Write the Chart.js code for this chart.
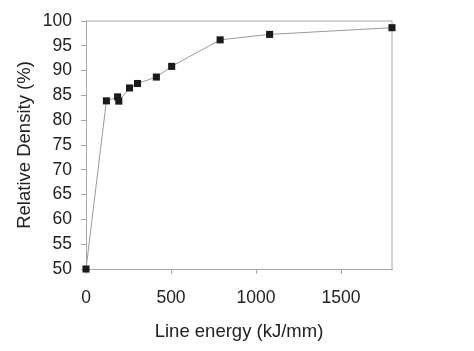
<!DOCTYPE html>
<html>
<head>
<meta charset="utf-8">
<script src="https://cdn.jsdelivr.net/npm/chart.js@4"></script>
<style>
  html, body { margin: 0; padding: 0; background: #fff; }
  #wrap { width: 474px; height: 351px; position: relative; }
</style>
</head>
<body>
<div id="wrap"><canvas id="chart"></canvas></div>
<script>
// values
const lineEnergy = [0, 120, 186, 193, 256, 303, 414, 504, 789, 1080, 1800];
const relativeDensity = [50, 83.9, 84.7, 83.85, 86.5, 87.4, 88.7, 90.85, 96.2, 97.3, 98.65];
const xTicks = [0, 500, 1000, 1500];
const yTicks = [50, 55, 60, 65, 70, 75, 80, 85, 90, 95, 100];

const axisGrey = "#a6a6a6";

const chartAreaBorder = {
  id: "chartAreaBorder",
  beforeDraw(chart) {
    const { ctx, chartArea: { left, top, right, bottom } } = chart;
    ctx.save();
    ctx.strokeStyle = axisGrey;
    ctx.lineWidth = 1;
    ctx.beginPath();
    ctx.moveTo(left, top);
    ctx.lineTo(right, top);
    ctx.lineTo(right, bottom);
    ctx.stroke();
    ctx.restore();
  },
};

Chart.defaults.font.family = "'Liberation Sans', Arial, sans-serif";
Chart.defaults.font.size = 17.5;
Chart.defaults.color = "#222222";

new Chart(document.getElementById("chart"), {
  type: "scatter",
  data: {
    datasets: [
      {
        data: lineEnergy.map((x, i) => ({ x: x, y: relativeDensity[i] })),
        showLine: true,
        clip: false,
        borderColor: "#9a9a9a",
        borderWidth: 1,
        pointStyle: "rect",
        pointRadius: 5,
        pointBackgroundColor: "#1a1a1a",
        pointBorderColor: "#1a1a1a",
        pointBorderWidth: 0,
      },
    ],
  },
  plugins: [chartAreaBorder],
  options: {
    responsive: true,
    maintainAspectRatio: false,
    animation: false,
    layout: { padding: { top: 21, right: 82, left: 0, bottom: 0 } },
    plugins: {
      legend: { display: false },
      tooltip: { enabled: false },
    },
    scales: {
      x: {
        type: "linear",
        min: 0,
        max: 1800,
        afterBuildTicks: (scale) => {
          scale.ticks = xTicks.map((v) => ({ value: v }));
        },
        afterFit: (scale) => {
          scale.height = 82;
        },
        border: { color: axisGrey, width: 1 },
        grid: { drawOnChartArea: false, color: axisGrey, tickLength: 5 },
        ticks: { padding: 14, maxRotation: 0, callback: (v) => String(v) },
        title: {
          display: true,
          text: "Line energy (kJ/mm)",
          font: { size: 18.5 },
          padding: { top: 8, bottom: 8 },
        },
      },
      y: {
        min: 50,
        max: 100,
        afterBuildTicks: (scale) => {
          scale.ticks = yTicks.map((v) => ({ value: v }));
        },
        afterFit: (scale) => {
          scale.width = 86;
        },
        border: { color: axisGrey, width: 1 },
        grid: { drawOnChartArea: false, color: axisGrey, tickLength: 5 },
        ticks: { padding: 9, callback: (v) => String(v) },
        title: {
          display: true,
          text: "Relative Density (%)",
          font: { size: 18.5 },
          padding: { top: 14, bottom: 0 },
        },
      },
    },
  },
});
</script>
</body>
</html>
